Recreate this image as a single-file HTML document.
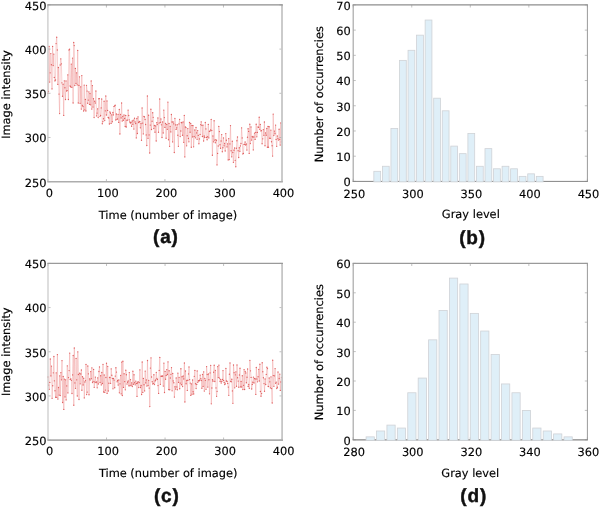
<!DOCTYPE html>
<html><head><meta charset="utf-8"><title>Figure</title>
<style>
html,body{margin:0;padding:0;background:#fff;}
svg{display:block;}
text{font-family:"DejaVu Sans","Liberation Sans",sans-serif;font-size:11.4px;fill:#000;stroke:#000;stroke-width:0.15px;text-rendering:geometricPrecision;}
text.tag{font-family:"Liberation Sans","DejaVu Sans",sans-serif;font-weight:bold;font-size:19px;fill:#111;stroke:#111;stroke-width:0.45px;letter-spacing:0.8px;}
</style></head><body>
<svg width="600" height="508" viewBox="0 0 600 508">
<rect width="600" height="508" fill="#fff"/>
<path d="M47.9,93.3 L48.5,91.5 L49.1,46.4 L49.7,82.1 L50.2,72.8 L50.8,53.6 L51.4,64.7 L52.0,88.9 L52.6,46.4 L53.2,65.6 L53.8,54.1 L54.3,77.4 L54.9,80.9 L55.5,79.9 L56.1,43.6 L56.7,37.2 L57.3,50.0 L57.8,84.4 L58.4,67.5 L59.0,94.1 L59.6,113.6 L60.2,65.0 L60.8,58.8 L61.4,63.8 L61.9,82.8 L62.5,96.2 L63.1,84.2 L63.7,115.4 L64.3,80.8 L64.9,87.7 L65.5,99.5 L66.0,80.9 L66.6,91.0 L67.2,90.6 L67.8,74.8 L68.4,99.5 L69.0,50.0 L69.6,49.1 L70.1,86.0 L70.7,86.9 L71.3,64.1 L71.9,87.3 L72.5,58.1 L73.1,103.0 L73.7,42.5 L74.2,45.6 L74.8,85.5 L75.4,68.4 L76.0,83.4 L76.6,72.8 L77.2,84.9 L77.7,50.4 L78.3,103.0 L78.9,85.4 L79.5,76.8 L80.1,103.3 L80.7,86.8 L81.3,109.1 L81.8,75.6 L82.4,105.3 L83.0,106.5 L83.6,111.0 L84.2,85.1 L84.8,109.8 L85.4,99.4 L85.9,111.0 L86.5,85.3 L87.1,91.1 L87.7,103.2 L88.3,100.1 L88.9,91.8 L89.5,104.4 L90.0,93.5 L90.6,104.8 L91.2,80.9 L91.8,109.1 L92.4,85.6 L93.0,107.1 L93.5,98.7 L94.1,117.6 L94.7,101.2 L95.3,103.1 L95.9,91.0 L96.5,115.9 L97.1,113.1 L97.6,108.8 L98.2,117.6 L98.8,98.7 L99.4,98.6 L100.0,116.3 L100.6,115.4 L101.2,107.9 L101.7,99.0 L102.3,123.7 L102.9,121.6 L103.5,118.7 L104.1,101.2 L104.7,120.6 L105.3,110.8 L105.8,96.0 L106.4,115.0 L107.0,100.9 L107.6,110.4 L108.2,117.5 L108.8,118.0 L109.4,124.0 L109.9,111.9 L110.5,113.2 L111.1,123.4 L111.7,114.8 L112.3,121.7 L112.9,112.5 L113.4,114.9 L114.0,106.4 L114.6,105.8 L115.2,105.2 L115.8,120.0 L116.4,114.0 L117.0,119.3 L117.5,119.0 L118.1,114.3 L118.7,122.4 L119.3,109.5 L119.9,134.0 L120.5,114.3 L121.1,118.0 L121.6,103.0 L122.2,121.1 L122.8,116.4 L123.4,120.2 L124.0,115.0 L124.6,118.5 L125.2,126.5 L125.7,115.4 L126.3,127.0 L126.9,120.2 L127.5,120.1 L128.1,110.1 L128.7,115.5 L129.2,119.8 L129.8,121.9 L130.4,123.0 L131.0,122.4 L131.6,126.2 L132.2,121.0 L132.8,124.3 L133.3,120.1 L133.9,129.1 L134.5,118.2 L135.1,121.9 L135.7,123.5 L136.3,137.9 L136.9,118.5 L137.4,133.5 L138.0,116.8 L138.6,122.5 L139.2,121.9 L139.8,121.5 L140.4,127.8 L141.0,123.5 L141.5,140.2 L142.1,107.9 L142.7,123.1 L143.3,133.9 L143.9,116.4 L144.5,116.9 L145.1,119.5 L145.6,124.5 L146.2,134.9 L146.8,145.5 L147.4,96.0 L148.0,138.3 L148.6,115.2 L149.1,134.9 L149.7,153.0 L150.3,125.1 L150.9,109.2 L151.5,129.5 L152.1,121.2 L152.7,112.7 L153.2,117.3 L153.8,128.6 L154.4,125.5 L155.0,132.2 L155.6,125.9 L156.2,141.0 L156.8,122.6 L157.3,124.6 L157.9,117.9 L158.5,132.2 L159.1,123.1 L159.7,99.0 L160.3,122.5 L160.9,118.9 L161.4,124.8 L162.0,137.5 L162.6,121.9 L163.2,133.0 L163.8,110.1 L164.4,117.6 L164.9,127.4 L165.5,123.5 L166.1,138.2 L166.7,124.4 L167.3,129.3 L167.9,102.1 L168.5,139.7 L169.0,123.4 L169.6,146.3 L170.2,126.3 L170.8,131.9 L171.4,114.5 L172.0,122.0 L172.6,141.9 L173.1,121.9 L173.7,123.8 L174.3,152.5 L174.9,118.3 L175.5,124.9 L176.1,129.4 L176.7,127.8 L177.2,124.7 L177.8,135.2 L178.4,146.3 L179.0,123.9 L179.6,119.3 L180.2,136.6 L180.8,131.0 L181.3,122.5 L181.9,122.8 L182.5,135.2 L183.1,121.9 L183.7,142.3 L184.3,115.4 L184.8,156.9 L185.4,126.9 L186.0,127.6 L186.6,145.8 L187.2,135.7 L187.8,128.6 L188.4,138.4 L188.9,141.8 L189.5,122.5 L190.1,132.2 L190.7,123.4 L191.3,147.2 L191.9,125.4 L192.5,136.9 L193.0,125.6 L193.6,146.8 L194.2,136.4 L194.8,130.0 L195.4,137.8 L196.0,127.4 L196.6,132.9 L197.1,139.3 L197.7,130.6 L198.3,135.4 L198.9,143.7 L199.5,138.9 L200.1,134.4 L200.7,124.6 L201.2,121.8 L201.8,125.3 L202.4,136.5 L203.0,125.1 L203.6,141.0 L204.2,136.0 L204.7,137.5 L205.3,122.5 L205.9,128.9 L206.5,137.4 L207.1,139.7 L207.7,136.7 L208.3,124.4 L208.8,137.9 L209.4,131.4 L210.0,131.0 L210.6,129.8 L211.2,119.4 L211.8,130.5 L212.4,155.2 L212.9,135.9 L213.5,141.8 L214.1,120.7 L214.7,140.1 L215.3,142.7 L215.9,139.6 L216.5,140.6 L217.0,164.9 L217.6,153.4 L218.2,146.0 L218.8,126.4 L219.4,131.6 L220.0,144.7 L220.5,148.2 L221.1,141.0 L221.7,134.6 L222.3,151.7 L222.9,147.7 L223.5,137.9 L224.1,145.8 L224.6,143.3 L225.2,151.0 L225.8,133.6 L226.4,140.2 L227.0,146.9 L227.6,143.8 L228.2,159.9 L228.7,138.6 L229.3,159.6 L229.9,143.9 L230.5,125.6 L231.1,150.7 L231.7,156.8 L232.3,141.2 L232.8,152.5 L233.4,162.3 L234.0,150.2 L234.6,148.0 L235.2,160.3 L235.8,166.7 L236.4,148.2 L236.9,140.7 L237.5,137.0 L238.1,150.7 L238.7,157.5 L239.3,147.7 L239.9,151.3 L240.4,145.9 L241.0,143.5 L241.6,127.8 L242.2,137.9 L242.8,153.9 L243.4,153.4 L244.0,144.4 L244.5,144.3 L245.1,142.0 L245.7,145.0 L246.3,144.0 L246.9,150.1 L247.5,137.2 L248.1,128.7 L248.6,131.4 L249.2,153.4 L249.8,124.2 L250.4,143.6 L251.0,126.9 L251.6,140.1 L252.2,136.3 L252.7,137.0 L253.3,149.9 L253.9,137.0 L254.5,133.1 L255.1,139.4 L255.7,132.4 L256.2,124.2 L256.8,136.8 L257.4,132.4 L258.0,127.0 L258.6,127.4 L259.2,117.2 L259.8,129.3 L260.3,124.4 L260.9,130.9 L261.5,130.6 L262.1,143.7 L262.7,138.8 L263.3,129.6 L263.9,135.3 L264.4,122.0 L265.0,145.7 L265.6,132.9 L266.2,135.2 L266.8,128.5 L267.4,147.2 L268.0,126.4 L268.5,147.2 L269.1,126.7 L269.7,138.2 L270.3,138.3 L270.9,130.1 L271.5,141.7 L272.1,145.7 L272.6,156.1 L273.2,114.1 L273.8,135.6 L274.4,131.1 L275.0,133.7 L275.6,125.1 L276.1,139.4 L276.7,146.3 L277.3,136.0 L277.9,138.6 L278.5,140.1 L279.1,129.2 L279.7,139.3 L280.2,145.1 L280.8,122.9 L281.4,141.9" fill="none" stroke="#ef9898" stroke-width="0.45" stroke-linejoin="round"/>
<path d="M47.9,93.3h0M48.5,91.5h0M49.1,46.4h0M49.7,82.1h0M50.2,72.8h0M50.8,53.6h0M51.4,64.7h0M52.0,88.9h0M52.6,46.4h0M53.2,65.6h0M53.8,54.1h0M54.3,77.4h0M54.9,80.9h0M55.5,79.9h0M56.1,43.6h0M56.7,37.2h0M57.3,50.0h0M57.8,84.4h0M58.4,67.5h0M59.0,94.1h0M59.6,113.6h0M60.2,65.0h0M60.8,58.8h0M61.4,63.8h0M61.9,82.8h0M62.5,96.2h0M63.1,84.2h0M63.7,115.4h0M64.3,80.8h0M64.9,87.7h0M65.5,99.5h0M66.0,80.9h0M66.6,91.0h0M67.2,90.6h0M67.8,74.8h0M68.4,99.5h0M69.0,50.0h0M69.6,49.1h0M70.1,86.0h0M70.7,86.9h0M71.3,64.1h0M71.9,87.3h0M72.5,58.1h0M73.1,103.0h0M73.7,42.5h0M74.2,45.6h0M74.8,85.5h0M75.4,68.4h0M76.0,83.4h0M76.6,72.8h0M77.2,84.9h0M77.7,50.4h0M78.3,103.0h0M78.9,85.4h0M79.5,76.8h0M80.1,103.3h0M80.7,86.8h0M81.3,109.1h0M81.8,75.6h0M82.4,105.3h0M83.0,106.5h0M83.6,111.0h0M84.2,85.1h0M84.8,109.8h0M85.4,99.4h0M85.9,111.0h0M86.5,85.3h0M87.1,91.1h0M87.7,103.2h0M88.3,100.1h0M88.9,91.8h0M89.5,104.4h0M90.0,93.5h0M90.6,104.8h0M91.2,80.9h0M91.8,109.1h0M92.4,85.6h0M93.0,107.1h0M93.5,98.7h0M94.1,117.6h0M94.7,101.2h0M95.3,103.1h0M95.9,91.0h0M96.5,115.9h0M97.1,113.1h0M97.6,108.8h0M98.2,117.6h0M98.8,98.7h0M99.4,98.6h0M100.0,116.3h0M100.6,115.4h0M101.2,107.9h0M101.7,99.0h0M102.3,123.7h0M102.9,121.6h0M103.5,118.7h0M104.1,101.2h0M104.7,120.6h0M105.3,110.8h0M105.8,96.0h0M106.4,115.0h0M107.0,100.9h0M107.6,110.4h0M108.2,117.5h0M108.8,118.0h0M109.4,124.0h0M109.9,111.9h0M110.5,113.2h0M111.1,123.4h0M111.7,114.8h0M112.3,121.7h0M112.9,112.5h0M113.4,114.9h0M114.0,106.4h0M114.6,105.8h0M115.2,105.2h0M115.8,120.0h0M116.4,114.0h0M117.0,119.3h0M117.5,119.0h0M118.1,114.3h0M118.7,122.4h0M119.3,109.5h0M119.9,134.0h0M120.5,114.3h0M121.1,118.0h0M121.6,103.0h0M122.2,121.1h0M122.8,116.4h0M123.4,120.2h0M124.0,115.0h0M124.6,118.5h0M125.2,126.5h0M125.7,115.4h0M126.3,127.0h0M126.9,120.2h0M127.5,120.1h0M128.1,110.1h0M128.7,115.5h0M129.2,119.8h0M129.8,121.9h0M130.4,123.0h0M131.0,122.4h0M131.6,126.2h0M132.2,121.0h0M132.8,124.3h0M133.3,120.1h0M133.9,129.1h0M134.5,118.2h0M135.1,121.9h0M135.7,123.5h0M136.3,137.9h0M136.9,118.5h0M137.4,133.5h0M138.0,116.8h0M138.6,122.5h0M139.2,121.9h0M139.8,121.5h0M140.4,127.8h0M141.0,123.5h0M141.5,140.2h0M142.1,107.9h0M142.7,123.1h0M143.3,133.9h0M143.9,116.4h0M144.5,116.9h0M145.1,119.5h0M145.6,124.5h0M146.2,134.9h0M146.8,145.5h0M147.4,96.0h0M148.0,138.3h0M148.6,115.2h0M149.1,134.9h0M149.7,153.0h0M150.3,125.1h0M150.9,109.2h0M151.5,129.5h0M152.1,121.2h0M152.7,112.7h0M153.2,117.3h0M153.8,128.6h0M154.4,125.5h0M155.0,132.2h0M155.6,125.9h0M156.2,141.0h0M156.8,122.6h0M157.3,124.6h0M157.9,117.9h0M158.5,132.2h0M159.1,123.1h0M159.7,99.0h0M160.3,122.5h0M160.9,118.9h0M161.4,124.8h0M162.0,137.5h0M162.6,121.9h0M163.2,133.0h0M163.8,110.1h0M164.4,117.6h0M164.9,127.4h0M165.5,123.5h0M166.1,138.2h0M166.7,124.4h0M167.3,129.3h0M167.9,102.1h0M168.5,139.7h0M169.0,123.4h0M169.6,146.3h0M170.2,126.3h0M170.8,131.9h0M171.4,114.5h0M172.0,122.0h0M172.6,141.9h0M173.1,121.9h0M173.7,123.8h0M174.3,152.5h0M174.9,118.3h0M175.5,124.9h0M176.1,129.4h0M176.7,127.8h0M177.2,124.7h0M177.8,135.2h0M178.4,146.3h0M179.0,123.9h0M179.6,119.3h0M180.2,136.6h0M180.8,131.0h0M181.3,122.5h0M181.9,122.8h0M182.5,135.2h0M183.1,121.9h0M183.7,142.3h0M184.3,115.4h0M184.8,156.9h0M185.4,126.9h0M186.0,127.6h0M186.6,145.8h0M187.2,135.7h0M187.8,128.6h0M188.4,138.4h0M188.9,141.8h0M189.5,122.5h0M190.1,132.2h0M190.7,123.4h0M191.3,147.2h0M191.9,125.4h0M192.5,136.9h0M193.0,125.6h0M193.6,146.8h0M194.2,136.4h0M194.8,130.0h0M195.4,137.8h0M196.0,127.4h0M196.6,132.9h0M197.1,139.3h0M197.7,130.6h0M198.3,135.4h0M198.9,143.7h0M199.5,138.9h0M200.1,134.4h0M200.7,124.6h0M201.2,121.8h0M201.8,125.3h0M202.4,136.5h0M203.0,125.1h0M203.6,141.0h0M204.2,136.0h0M204.7,137.5h0M205.3,122.5h0M205.9,128.9h0M206.5,137.4h0M207.1,139.7h0M207.7,136.7h0M208.3,124.4h0M208.8,137.9h0M209.4,131.4h0M210.0,131.0h0M210.6,129.8h0M211.2,119.4h0M211.8,130.5h0M212.4,155.2h0M212.9,135.9h0M213.5,141.8h0M214.1,120.7h0M214.7,140.1h0M215.3,142.7h0M215.9,139.6h0M216.5,140.6h0M217.0,164.9h0M217.6,153.4h0M218.2,146.0h0M218.8,126.4h0M219.4,131.6h0M220.0,144.7h0M220.5,148.2h0M221.1,141.0h0M221.7,134.6h0M222.3,151.7h0M222.9,147.7h0M223.5,137.9h0M224.1,145.8h0M224.6,143.3h0M225.2,151.0h0M225.8,133.6h0M226.4,140.2h0M227.0,146.9h0M227.6,143.8h0M228.2,159.9h0M228.7,138.6h0M229.3,159.6h0M229.9,143.9h0M230.5,125.6h0M231.1,150.7h0M231.7,156.8h0M232.3,141.2h0M232.8,152.5h0M233.4,162.3h0M234.0,150.2h0M234.6,148.0h0M235.2,160.3h0M235.8,166.7h0M236.4,148.2h0M236.9,140.7h0M237.5,137.0h0M238.1,150.7h0M238.7,157.5h0M239.3,147.7h0M239.9,151.3h0M240.4,145.9h0M241.0,143.5h0M241.6,127.8h0M242.2,137.9h0M242.8,153.9h0M243.4,153.4h0M244.0,144.4h0M244.5,144.3h0M245.1,142.0h0M245.7,145.0h0M246.3,144.0h0M246.9,150.1h0M247.5,137.2h0M248.1,128.7h0M248.6,131.4h0M249.2,153.4h0M249.8,124.2h0M250.4,143.6h0M251.0,126.9h0M251.6,140.1h0M252.2,136.3h0M252.7,137.0h0M253.3,149.9h0M253.9,137.0h0M254.5,133.1h0M255.1,139.4h0M255.7,132.4h0M256.2,124.2h0M256.8,136.8h0M257.4,132.4h0M258.0,127.0h0M258.6,127.4h0M259.2,117.2h0M259.8,129.3h0M260.3,124.4h0M260.9,130.9h0M261.5,130.6h0M262.1,143.7h0M262.7,138.8h0M263.3,129.6h0M263.9,135.3h0M264.4,122.0h0M265.0,145.7h0M265.6,132.9h0M266.2,135.2h0M266.8,128.5h0M267.4,147.2h0M268.0,126.4h0M268.5,147.2h0M269.1,126.7h0M269.7,138.2h0M270.3,138.3h0M270.9,130.1h0M271.5,141.7h0M272.1,145.7h0M272.6,156.1h0M273.2,114.1h0M273.8,135.6h0M274.4,131.1h0M275.0,133.7h0M275.6,125.1h0M276.1,139.4h0M276.7,146.3h0M277.3,136.0h0M277.9,138.6h0M278.5,140.1h0M279.1,129.2h0M279.7,139.3h0M280.2,145.1h0M280.8,122.9h0M281.4,141.9h0" fill="none" stroke="#e06161" stroke-width="1.35" stroke-linecap="round"/>
<text x="49.40" y="197.45" text-anchor="middle">0</text>
<text x="107.92" y="197.45" text-anchor="middle">100</text>
<text x="166.45" y="197.45" text-anchor="middle">200</text>
<text x="224.97" y="197.45" text-anchor="middle">300</text>
<text x="283.50" y="197.45" text-anchor="middle">400</text>
<text x="46.45" y="186.60" text-anchor="end">250</text>
<text x="46.45" y="142.40" text-anchor="end">300</text>
<text x="46.45" y="98.20" text-anchor="end">350</text>
<text x="46.45" y="54.00" text-anchor="end">400</text>
<text x="46.45" y="9.80" text-anchor="end">450</text>
<path d="M47.90,181.7v-2.6M47.90,4.9v2.6M106.42,181.7v-2.6M106.42,4.9v2.6M164.95,181.7v-2.6M164.95,4.9v2.6M223.47,181.7v-2.6M223.47,4.9v2.6M282.00,181.7v-2.6M282.00,4.9v2.6M47.9,181.70h2.6M282.0,181.70h-2.6M47.9,137.50h2.6M282.0,137.50h-2.6M47.9,93.30h2.6M282.0,93.30h-2.6M47.9,49.10h2.6M282.0,49.10h-2.6M47.9,4.90h2.6M282.0,4.90h-2.6" stroke="#a6a6a6" stroke-width="0.7" fill="none"/>
<path d="M47.9,4.9V181.7" stroke="#c8c8c8" stroke-width="1.25" fill="none"/>
<path d="M282.0,4.9V181.7" stroke="#c6c6c6" stroke-width="1.8" fill="none"/>
<path d="M47.275,4.9H282.9" stroke="#8e8e8e" stroke-width="1.4" fill="none"/>
<path d="M47.275,181.7H282.9" stroke="#adadad" stroke-width="1.6" fill="none"/>
<text x="168.05" y="218.70" text-anchor="middle">Time (number of image)</text>
<text transform="translate(10.2,94.50) rotate(-90)" text-anchor="middle">Image intensity</text>
<text class="tag" x="165.90" y="243.00" text-anchor="middle">(a)</text>
<text x="354.30" y="197.55" text-anchor="middle">250</text>
<text x="412.85" y="197.55" text-anchor="middle">300</text>
<text x="471.40" y="197.55" text-anchor="middle">350</text>
<text x="529.95" y="197.55" text-anchor="middle">400</text>
<text x="588.50" y="197.55" text-anchor="middle">450</text>
<text x="350.65" y="186.30" text-anchor="end">0</text>
<text x="350.65" y="161.09" text-anchor="end">10</text>
<text x="350.65" y="135.87" text-anchor="end">20</text>
<text x="350.65" y="110.66" text-anchor="end">30</text>
<text x="350.65" y="85.44" text-anchor="end">40</text>
<text x="350.65" y="60.23" text-anchor="end">50</text>
<text x="350.65" y="35.01" text-anchor="end">60</text>
<text x="350.65" y="9.80" text-anchor="end">70</text>
<path d="M353.20,181.4v-2.6M353.20,4.9v2.6M411.75,181.4v-2.6M411.75,4.9v2.6M470.30,181.4v-2.6M470.30,4.9v2.6M528.85,181.4v-2.6M528.85,4.9v2.6M587.40,181.4v-2.6M587.40,4.9v2.6M353.2,181.40h2.6M587.4,181.40h-2.6M353.2,156.19h2.6M587.4,156.19h-2.6M353.2,130.97h2.6M587.4,130.97h-2.6M353.2,105.76h2.6M587.4,105.76h-2.6M353.2,80.54h2.6M587.4,80.54h-2.6M353.2,55.33h2.6M587.4,55.33h-2.6M353.2,30.11h2.6M587.4,30.11h-2.6M353.2,4.90h2.6M587.4,4.90h-2.6" stroke="#a6a6a6" stroke-width="0.7" fill="none"/>
<path d="M353.2,4.9V181.4" stroke="#a8a8a8" stroke-width="1.2" fill="none"/>
<path d="M587.4,4.9V181.4" stroke="#9a9a9a" stroke-width="1.0" fill="none"/>
<path d="M352.59999999999997,4.9H587.9" stroke="#8e8e8e" stroke-width="1.4" fill="none"/>
<path d="M352.59999999999997,181.4H587.9" stroke="#858585" stroke-width="1.0" fill="none"/>
<text x="470.85" y="218.40" text-anchor="middle">Gray level</text>
<text transform="translate(323.3,94.15) rotate(-90)" text-anchor="middle">Number of occurrencies</text>
<text class="tag" x="472.55" y="244.10" text-anchor="middle">(b)</text>
<rect x="373.84" y="171.31" width="6.80" height="10.59" fill="#dfeff8" stroke="#cfd2d6" stroke-width="0.8"/>
<rect x="382.39" y="166.27" width="6.80" height="15.63" fill="#dfeff8" stroke="#cfd2d6" stroke-width="0.8"/>
<rect x="390.94" y="128.45" width="6.80" height="53.45" fill="#dfeff8" stroke="#cfd2d6" stroke-width="0.8"/>
<rect x="399.49" y="60.37" width="6.80" height="121.53" fill="#dfeff8" stroke="#cfd2d6" stroke-width="0.8"/>
<rect x="408.04" y="50.29" width="6.80" height="131.61" fill="#dfeff8" stroke="#cfd2d6" stroke-width="0.8"/>
<rect x="416.59" y="35.16" width="6.80" height="146.74" fill="#dfeff8" stroke="#cfd2d6" stroke-width="0.8"/>
<rect x="425.14" y="20.03" width="6.80" height="161.87" fill="#dfeff8" stroke="#cfd2d6" stroke-width="0.8"/>
<rect x="433.69" y="98.19" width="6.80" height="83.71" fill="#dfeff8" stroke="#cfd2d6" stroke-width="0.8"/>
<rect x="442.24" y="110.80" width="6.80" height="71.10" fill="#dfeff8" stroke="#cfd2d6" stroke-width="0.8"/>
<rect x="450.79" y="146.10" width="6.80" height="35.80" fill="#dfeff8" stroke="#cfd2d6" stroke-width="0.8"/>
<rect x="459.34" y="153.66" width="6.80" height="28.24" fill="#dfeff8" stroke="#cfd2d6" stroke-width="0.8"/>
<rect x="467.89" y="133.49" width="6.80" height="48.41" fill="#dfeff8" stroke="#cfd2d6" stroke-width="0.8"/>
<rect x="476.44" y="166.27" width="6.80" height="15.63" fill="#dfeff8" stroke="#cfd2d6" stroke-width="0.8"/>
<rect x="484.99" y="148.62" width="6.80" height="33.28" fill="#dfeff8" stroke="#cfd2d6" stroke-width="0.8"/>
<rect x="493.54" y="168.79" width="6.80" height="13.11" fill="#dfeff8" stroke="#cfd2d6" stroke-width="0.8"/>
<rect x="502.08" y="166.27" width="6.80" height="15.63" fill="#dfeff8" stroke="#cfd2d6" stroke-width="0.8"/>
<rect x="510.63" y="168.79" width="6.80" height="13.11" fill="#dfeff8" stroke="#cfd2d6" stroke-width="0.8"/>
<rect x="519.18" y="176.36" width="6.80" height="5.54" fill="#dfeff8" stroke="#cfd2d6" stroke-width="0.8"/>
<rect x="527.73" y="173.84" width="6.80" height="8.06" fill="#dfeff8" stroke="#cfd2d6" stroke-width="0.8"/>
<rect x="536.28" y="176.36" width="6.80" height="5.54" fill="#dfeff8" stroke="#cfd2d6" stroke-width="0.8"/>
<path d="M48.0,376.9 L48.6,385.1 L49.2,389.3 L49.8,382.4 L50.3,359.0 L50.9,375.9 L51.5,366.1 L52.1,398.3 L52.7,385.7 L53.3,372.8 L53.9,356.5 L54.4,380.8 L55.0,390.7 L55.6,397.2 L56.2,372.8 L56.8,397.3 L57.4,354.6 L57.9,399.1 L58.5,387.5 L59.1,395.1 L59.7,375.8 L60.3,395.6 L60.9,372.6 L61.5,379.8 L62.0,360.6 L62.6,402.5 L63.2,376.5 L63.8,409.4 L64.4,379.1 L65.0,396.9 L65.6,379.8 L66.1,399.9 L66.7,385.9 L67.3,365.8 L67.9,392.9 L68.5,377.6 L69.1,370.6 L69.7,353.1 L70.2,379.4 L70.8,378.8 L71.4,380.3 L72.0,393.5 L72.6,374.9 L73.2,355.5 L73.8,405.2 L74.3,348.0 L74.9,382.9 L75.5,388.3 L76.1,358.4 L76.7,379.8 L77.3,396.0 L77.8,351.8 L78.4,374.5 L79.0,399.5 L79.6,373.2 L80.2,383.8 L80.8,374.0 L81.4,370.0 L81.9,390.2 L82.5,376.7 L83.1,385.0 L83.7,378.2 L84.3,397.9 L84.9,382.0 L85.5,380.6 L86.0,364.4 L86.6,394.6 L87.2,392.1 L87.8,366.0 L88.4,373.8 L89.0,394.7 L89.6,378.8 L90.1,380.1 L90.7,371.6 L91.3,378.7 L91.9,367.8 L92.5,382.6 L93.1,381.6 L93.6,369.4 L94.2,387.3 L94.8,381.9 L95.4,377.1 L96.0,382.5 L96.6,381.9 L97.2,387.8 L97.7,377.8 L98.3,384.0 L98.9,371.5 L99.5,366.9 L100.1,382.5 L100.7,375.7 L101.3,384.9 L101.8,372.5 L102.4,383.5 L103.0,364.3 L103.6,392.0 L104.2,375.0 L104.8,392.3 L105.4,390.1 L105.9,377.5 L106.5,363.2 L107.1,393.4 L107.7,366.3 L108.3,391.0 L108.9,383.2 L109.5,377.4 L110.0,377.5 L110.6,383.3 L111.2,368.8 L111.8,375.2 L112.4,378.6 L113.0,388.8 L113.5,378.5 L114.1,380.1 L114.7,387.7 L115.3,376.1 L115.9,367.7 L116.5,372.1 L117.1,381.8 L117.6,380.5 L118.2,385.1 L118.8,379.9 L119.4,392.8 L120.0,383.8 L120.6,375.3 L121.2,393.9 L121.7,362.1 L122.3,395.5 L122.9,361.2 L123.5,387.4 L124.1,373.7 L124.7,381.6 L125.3,389.8 L125.8,370.2 L126.4,374.7 L127.0,384.1 L127.6,382.2 L128.2,380.9 L128.8,385.8 L129.3,372.6 L129.9,385.8 L130.5,379.6 L131.1,385.2 L131.7,382.8 L132.3,386.5 L132.9,371.2 L133.4,384.2 L134.0,374.7 L134.6,382.7 L135.2,384.8 L135.8,381.1 L136.4,383.4 L137.0,396.4 L137.5,383.0 L138.1,381.7 L138.7,387.6 L139.3,382.6 L139.9,369.8 L140.5,387.5 L141.1,385.5 L141.6,394.5 L142.2,362.0 L142.8,392.4 L143.4,378.4 L144.0,384.7 L144.6,390.9 L145.2,371.1 L145.7,382.9 L146.3,379.9 L146.9,386.1 L147.5,360.5 L148.1,385.6 L148.7,380.3 L149.2,388.1 L149.8,406.6 L150.4,368.1 L151.0,357.8 L151.6,377.0 L152.2,381.7 L152.8,384.0 L153.3,383.4 L153.9,374.7 L154.5,384.6 L155.1,380.9 L155.7,380.0 L156.3,372.3 L156.9,378.5 L157.4,379.4 L158.0,385.6 L158.6,393.4 L159.2,370.4 L159.8,357.4 L160.4,384.3 L161.0,376.2 L161.5,376.2 L162.1,376.4 L162.7,376.0 L163.3,386.1 L163.9,363.1 L164.5,392.5 L165.1,371.4 L165.6,379.2 L166.2,375.4 L166.8,369.6 L167.4,374.5 L168.0,361.8 L168.6,389.6 L169.1,370.7 L169.7,389.7 L170.3,378.0 L170.9,374.3 L171.5,367.6 L172.1,390.8 L172.7,373.4 L173.2,380.9 L173.8,382.7 L174.4,397.1 L175.0,386.7 L175.6,389.1 L176.2,377.9 L176.8,386.9 L177.3,389.7 L177.9,373.1 L178.5,382.4 L179.1,377.3 L179.7,388.7 L180.3,383.1 L180.9,368.7 L181.4,384.7 L182.0,376.7 L182.6,386.6 L183.2,376.0 L183.8,379.0 L184.4,363.0 L184.9,402.0 L185.5,371.0 L186.1,383.7 L186.7,380.5 L187.3,390.4 L187.9,380.2 L188.5,373.9 L189.0,366.9 L189.6,379.6 L190.2,383.1 L190.8,395.4 L191.4,383.9 L192.0,394.2 L192.6,380.0 L193.1,391.7 L193.7,394.0 L194.3,376.3 L194.9,370.4 L195.5,383.7 L196.1,388.6 L196.7,384.4 L197.2,370.9 L197.8,382.3 L198.4,380.7 L199.0,381.1 L199.6,380.2 L200.2,375.1 L200.8,378.7 L201.3,380.5 L201.9,388.2 L202.5,374.4 L203.1,386.4 L203.7,371.8 L204.3,391.1 L204.8,378.3 L205.4,380.3 L206.0,389.3 L206.6,366.6 L207.2,374.6 L207.8,387.1 L208.4,374.0 L208.9,379.7 L209.5,393.8 L210.1,372.9 L210.7,365.3 L211.3,403.8 L211.9,388.0 L212.5,379.7 L213.0,381.2 L213.6,372.2 L214.2,365.2 L214.8,381.5 L215.4,370.3 L216.0,387.9 L216.6,396.3 L217.1,391.3 L217.7,366.6 L218.3,377.6 L218.9,365.1 L219.5,378.1 L220.1,381.5 L220.6,379.3 L221.2,383.1 L221.8,381.4 L222.4,379.5 L223.0,370.6 L223.6,380.4 L224.2,382.5 L224.7,384.6 L225.3,383.8 L225.9,368.4 L226.5,381.0 L227.1,381.4 L227.7,383.4 L228.3,387.1 L228.8,395.3 L229.4,374.2 L230.0,362.9 L230.6,381.3 L231.2,381.7 L231.8,379.2 L232.4,390.9 L232.9,403.3 L233.5,365.0 L234.1,372.7 L234.7,387.8 L235.3,374.8 L235.9,371.8 L236.5,386.2 L237.0,364.9 L237.6,377.7 L238.2,381.1 L238.8,387.2 L239.4,375.0 L240.0,368.2 L240.5,386.9 L241.1,381.4 L241.7,387.0 L242.3,375.7 L242.9,389.5 L243.5,385.3 L244.1,369.6 L244.6,389.5 L245.2,371.3 L245.8,373.0 L246.4,382.7 L247.0,377.2 L247.6,369.0 L248.2,386.5 L248.7,384.3 L249.3,388.3 L249.9,360.3 L250.5,370.8 L251.1,377.4 L251.7,389.0 L252.3,384.4 L252.8,382.2 L253.4,377.1 L254.0,383.0 L254.6,378.4 L255.2,379.0 L255.8,394.4 L256.3,367.5 L256.9,379.0 L257.5,381.8 L258.1,376.7 L258.7,369.3 L259.3,381.0 L259.9,364.2 L260.4,391.5 L261.0,396.2 L261.6,393.6 L262.2,362.7 L262.8,371.7 L263.4,377.7 L264.0,383.6 L264.5,391.2 L265.1,378.9 L265.7,384.5 L266.3,374.4 L266.9,367.2 L267.5,368.6 L268.1,386.3 L268.6,386.6 L269.2,378.0 L269.8,381.8 L270.4,387.9 L271.0,376.8 L271.6,388.6 L272.2,403.0 L272.7,360.2 L273.3,375.6 L273.9,386.3 L274.5,375.8 L275.1,368.6 L275.7,383.2 L276.2,382.1 L276.8,388.5 L277.4,387.2 L278.0,372.0 L278.6,384.1 L279.2,378.5 L279.8,374.1 L280.3,390.4 L280.9,382.0 L281.5,377.3" fill="none" stroke="#ef9898" stroke-width="0.45" stroke-linejoin="round"/>
<path d="M48.0,376.9h0M48.6,385.1h0M49.2,389.3h0M49.8,382.4h0M50.3,359.0h0M50.9,375.9h0M51.5,366.1h0M52.1,398.3h0M52.7,385.7h0M53.3,372.8h0M53.9,356.5h0M54.4,380.8h0M55.0,390.7h0M55.6,397.2h0M56.2,372.8h0M56.8,397.3h0M57.4,354.6h0M57.9,399.1h0M58.5,387.5h0M59.1,395.1h0M59.7,375.8h0M60.3,395.6h0M60.9,372.6h0M61.5,379.8h0M62.0,360.6h0M62.6,402.5h0M63.2,376.5h0M63.8,409.4h0M64.4,379.1h0M65.0,396.9h0M65.6,379.8h0M66.1,399.9h0M66.7,385.9h0M67.3,365.8h0M67.9,392.9h0M68.5,377.6h0M69.1,370.6h0M69.7,353.1h0M70.2,379.4h0M70.8,378.8h0M71.4,380.3h0M72.0,393.5h0M72.6,374.9h0M73.2,355.5h0M73.8,405.2h0M74.3,348.0h0M74.9,382.9h0M75.5,388.3h0M76.1,358.4h0M76.7,379.8h0M77.3,396.0h0M77.8,351.8h0M78.4,374.5h0M79.0,399.5h0M79.6,373.2h0M80.2,383.8h0M80.8,374.0h0M81.4,370.0h0M81.9,390.2h0M82.5,376.7h0M83.1,385.0h0M83.7,378.2h0M84.3,397.9h0M84.9,382.0h0M85.5,380.6h0M86.0,364.4h0M86.6,394.6h0M87.2,392.1h0M87.8,366.0h0M88.4,373.8h0M89.0,394.7h0M89.6,378.8h0M90.1,380.1h0M90.7,371.6h0M91.3,378.7h0M91.9,367.8h0M92.5,382.6h0M93.1,381.6h0M93.6,369.4h0M94.2,387.3h0M94.8,381.9h0M95.4,377.1h0M96.0,382.5h0M96.6,381.9h0M97.2,387.8h0M97.7,377.8h0M98.3,384.0h0M98.9,371.5h0M99.5,366.9h0M100.1,382.5h0M100.7,375.7h0M101.3,384.9h0M101.8,372.5h0M102.4,383.5h0M103.0,364.3h0M103.6,392.0h0M104.2,375.0h0M104.8,392.3h0M105.4,390.1h0M105.9,377.5h0M106.5,363.2h0M107.1,393.4h0M107.7,366.3h0M108.3,391.0h0M108.9,383.2h0M109.5,377.4h0M110.0,377.5h0M110.6,383.3h0M111.2,368.8h0M111.8,375.2h0M112.4,378.6h0M113.0,388.8h0M113.5,378.5h0M114.1,380.1h0M114.7,387.7h0M115.3,376.1h0M115.9,367.7h0M116.5,372.1h0M117.1,381.8h0M117.6,380.5h0M118.2,385.1h0M118.8,379.9h0M119.4,392.8h0M120.0,383.8h0M120.6,375.3h0M121.2,393.9h0M121.7,362.1h0M122.3,395.5h0M122.9,361.2h0M123.5,387.4h0M124.1,373.7h0M124.7,381.6h0M125.3,389.8h0M125.8,370.2h0M126.4,374.7h0M127.0,384.1h0M127.6,382.2h0M128.2,380.9h0M128.8,385.8h0M129.3,372.6h0M129.9,385.8h0M130.5,379.6h0M131.1,385.2h0M131.7,382.8h0M132.3,386.5h0M132.9,371.2h0M133.4,384.2h0M134.0,374.7h0M134.6,382.7h0M135.2,384.8h0M135.8,381.1h0M136.4,383.4h0M137.0,396.4h0M137.5,383.0h0M138.1,381.7h0M138.7,387.6h0M139.3,382.6h0M139.9,369.8h0M140.5,387.5h0M141.1,385.5h0M141.6,394.5h0M142.2,362.0h0M142.8,392.4h0M143.4,378.4h0M144.0,384.7h0M144.6,390.9h0M145.2,371.1h0M145.7,382.9h0M146.3,379.9h0M146.9,386.1h0M147.5,360.5h0M148.1,385.6h0M148.7,380.3h0M149.2,388.1h0M149.8,406.6h0M150.4,368.1h0M151.0,357.8h0M151.6,377.0h0M152.2,381.7h0M152.8,384.0h0M153.3,383.4h0M153.9,374.7h0M154.5,384.6h0M155.1,380.9h0M155.7,380.0h0M156.3,372.3h0M156.9,378.5h0M157.4,379.4h0M158.0,385.6h0M158.6,393.4h0M159.2,370.4h0M159.8,357.4h0M160.4,384.3h0M161.0,376.2h0M161.5,376.2h0M162.1,376.4h0M162.7,376.0h0M163.3,386.1h0M163.9,363.1h0M164.5,392.5h0M165.1,371.4h0M165.6,379.2h0M166.2,375.4h0M166.8,369.6h0M167.4,374.5h0M168.0,361.8h0M168.6,389.6h0M169.1,370.7h0M169.7,389.7h0M170.3,378.0h0M170.9,374.3h0M171.5,367.6h0M172.1,390.8h0M172.7,373.4h0M173.2,380.9h0M173.8,382.7h0M174.4,397.1h0M175.0,386.7h0M175.6,389.1h0M176.2,377.9h0M176.8,386.9h0M177.3,389.7h0M177.9,373.1h0M178.5,382.4h0M179.1,377.3h0M179.7,388.7h0M180.3,383.1h0M180.9,368.7h0M181.4,384.7h0M182.0,376.7h0M182.6,386.6h0M183.2,376.0h0M183.8,379.0h0M184.4,363.0h0M184.9,402.0h0M185.5,371.0h0M186.1,383.7h0M186.7,380.5h0M187.3,390.4h0M187.9,380.2h0M188.5,373.9h0M189.0,366.9h0M189.6,379.6h0M190.2,383.1h0M190.8,395.4h0M191.4,383.9h0M192.0,394.2h0M192.6,380.0h0M193.1,391.7h0M193.7,394.0h0M194.3,376.3h0M194.9,370.4h0M195.5,383.7h0M196.1,388.6h0M196.7,384.4h0M197.2,370.9h0M197.8,382.3h0M198.4,380.7h0M199.0,381.1h0M199.6,380.2h0M200.2,375.1h0M200.8,378.7h0M201.3,380.5h0M201.9,388.2h0M202.5,374.4h0M203.1,386.4h0M203.7,371.8h0M204.3,391.1h0M204.8,378.3h0M205.4,380.3h0M206.0,389.3h0M206.6,366.6h0M207.2,374.6h0M207.8,387.1h0M208.4,374.0h0M208.9,379.7h0M209.5,393.8h0M210.1,372.9h0M210.7,365.3h0M211.3,403.8h0M211.9,388.0h0M212.5,379.7h0M213.0,381.2h0M213.6,372.2h0M214.2,365.2h0M214.8,381.5h0M215.4,370.3h0M216.0,387.9h0M216.6,396.3h0M217.1,391.3h0M217.7,366.6h0M218.3,377.6h0M218.9,365.1h0M219.5,378.1h0M220.1,381.5h0M220.6,379.3h0M221.2,383.1h0M221.8,381.4h0M222.4,379.5h0M223.0,370.6h0M223.6,380.4h0M224.2,382.5h0M224.7,384.6h0M225.3,383.8h0M225.9,368.4h0M226.5,381.0h0M227.1,381.4h0M227.7,383.4h0M228.3,387.1h0M228.8,395.3h0M229.4,374.2h0M230.0,362.9h0M230.6,381.3h0M231.2,381.7h0M231.8,379.2h0M232.4,390.9h0M232.9,403.3h0M233.5,365.0h0M234.1,372.7h0M234.7,387.8h0M235.3,374.8h0M235.9,371.8h0M236.5,386.2h0M237.0,364.9h0M237.6,377.7h0M238.2,381.1h0M238.8,387.2h0M239.4,375.0h0M240.0,368.2h0M240.5,386.9h0M241.1,381.4h0M241.7,387.0h0M242.3,375.7h0M242.9,389.5h0M243.5,385.3h0M244.1,369.6h0M244.6,389.5h0M245.2,371.3h0M245.8,373.0h0M246.4,382.7h0M247.0,377.2h0M247.6,369.0h0M248.2,386.5h0M248.7,384.3h0M249.3,388.3h0M249.9,360.3h0M250.5,370.8h0M251.1,377.4h0M251.7,389.0h0M252.3,384.4h0M252.8,382.2h0M253.4,377.1h0M254.0,383.0h0M254.6,378.4h0M255.2,379.0h0M255.8,394.4h0M256.3,367.5h0M256.9,379.0h0M257.5,381.8h0M258.1,376.7h0M258.7,369.3h0M259.3,381.0h0M259.9,364.2h0M260.4,391.5h0M261.0,396.2h0M261.6,393.6h0M262.2,362.7h0M262.8,371.7h0M263.4,377.7h0M264.0,383.6h0M264.5,391.2h0M265.1,378.9h0M265.7,384.5h0M266.3,374.4h0M266.9,367.2h0M267.5,368.6h0M268.1,386.3h0M268.6,386.6h0M269.2,378.0h0M269.8,381.8h0M270.4,387.9h0M271.0,376.8h0M271.6,388.6h0M272.2,403.0h0M272.7,360.2h0M273.3,375.6h0M273.9,386.3h0M274.5,375.8h0M275.1,368.6h0M275.7,383.2h0M276.2,382.1h0M276.8,388.5h0M277.4,387.2h0M278.0,372.0h0M278.6,384.1h0M279.2,378.5h0M279.8,374.1h0M280.3,390.4h0M280.9,382.0h0M281.5,377.3h0" fill="none" stroke="#e06161" stroke-width="1.35" stroke-linecap="round"/>
<text x="49.50" y="455.25" text-anchor="middle">0</text>
<text x="108.03" y="455.25" text-anchor="middle">100</text>
<text x="166.55" y="455.25" text-anchor="middle">200</text>
<text x="225.08" y="455.25" text-anchor="middle">300</text>
<text x="283.60" y="455.25" text-anchor="middle">400</text>
<text x="46.55" y="445.00" text-anchor="end">250</text>
<text x="46.55" y="400.82" text-anchor="end">300</text>
<text x="46.55" y="356.65" text-anchor="end">350</text>
<text x="46.55" y="312.47" text-anchor="end">400</text>
<text x="46.55" y="268.30" text-anchor="end">450</text>
<path d="M48.00,440.1v-2.6M48.00,263.4v2.6M106.53,440.1v-2.6M106.53,263.4v2.6M165.05,440.1v-2.6M165.05,263.4v2.6M223.58,440.1v-2.6M223.58,263.4v2.6M282.10,440.1v-2.6M282.10,263.4v2.6M48.0,440.10h2.6M282.1,440.10h-2.6M48.0,395.93h2.6M282.1,395.93h-2.6M48.0,351.75h2.6M282.1,351.75h-2.6M48.0,307.57h2.6M282.1,307.57h-2.6M48.0,263.40h2.6M282.1,263.40h-2.6" stroke="#a6a6a6" stroke-width="0.7" fill="none"/>
<path d="M48.0,263.4V440.1" stroke="#cccccc" stroke-width="1.3" fill="none"/>
<path d="M282.1,263.4V440.1" stroke="#c6c6c6" stroke-width="1.8" fill="none"/>
<path d="M47.35,263.4H283.0" stroke="#9a9a9a" stroke-width="1.1" fill="none"/>
<path d="M47.35,440.1H283.0" stroke="#adadad" stroke-width="1.6" fill="none"/>
<text x="168.15" y="476.90" text-anchor="middle">Time (number of image)</text>
<text transform="translate(10.2,351.75) rotate(-90)" text-anchor="middle">Image intensity</text>
<text class="tag" x="166.75" y="501.80" text-anchor="middle">(c)</text>
<text x="354.20" y="455.55" text-anchor="middle">280</text>
<text x="412.75" y="455.55" text-anchor="middle">300</text>
<text x="471.30" y="455.55" text-anchor="middle">320</text>
<text x="529.85" y="455.55" text-anchor="middle">340</text>
<text x="588.40" y="455.55" text-anchor="middle">360</text>
<text x="350.65" y="444.70" text-anchor="end">0</text>
<text x="350.65" y="415.30" text-anchor="end">10</text>
<text x="350.65" y="385.90" text-anchor="end">20</text>
<text x="350.65" y="356.50" text-anchor="end">30</text>
<text x="350.65" y="327.10" text-anchor="end">40</text>
<text x="350.65" y="297.70" text-anchor="end">50</text>
<text x="350.65" y="268.30" text-anchor="end">60</text>
<path d="M353.20,439.8v-2.6M353.20,263.4v2.6M411.75,439.8v-2.6M411.75,263.4v2.6M470.30,439.8v-2.6M470.30,263.4v2.6M528.85,439.8v-2.6M528.85,263.4v2.6M587.40,439.8v-2.6M587.40,263.4v2.6M353.2,439.80h2.6M587.4,439.80h-2.6M353.2,410.40h2.6M587.4,410.40h-2.6M353.2,381.00h2.6M587.4,381.00h-2.6M353.2,351.60h2.6M587.4,351.60h-2.6M353.2,322.20h2.6M587.4,322.20h-2.6M353.2,292.80h2.6M587.4,292.80h-2.6M353.2,263.40h2.6M587.4,263.40h-2.6" stroke="#a6a6a6" stroke-width="0.7" fill="none"/>
<path d="M353.2,263.4V439.8" stroke="#a8a8a8" stroke-width="1.2" fill="none"/>
<path d="M587.4,263.4V439.8" stroke="#9a9a9a" stroke-width="1.0" fill="none"/>
<path d="M352.59999999999997,263.4H587.9" stroke="#9a9a9a" stroke-width="1.1" fill="none"/>
<path d="M352.59999999999997,439.8H587.9" stroke="#858585" stroke-width="1.2" fill="none"/>
<text x="470.30" y="477.30" text-anchor="middle">Gray level</text>
<text transform="translate(323.3,352.20) rotate(-90)" text-anchor="middle">Number of occurrencies</text>
<text class="tag" x="473.70" y="502.20" text-anchor="middle">(d)</text>
<rect x="366.09" y="436.86" width="8.23" height="3.44" fill="#dfeff8" stroke="#cfd2d6" stroke-width="0.8"/>
<rect x="376.51" y="430.98" width="8.23" height="9.32" fill="#dfeff8" stroke="#cfd2d6" stroke-width="0.8"/>
<rect x="386.93" y="425.10" width="8.23" height="15.20" fill="#dfeff8" stroke="#cfd2d6" stroke-width="0.8"/>
<rect x="397.34" y="428.04" width="8.23" height="12.26" fill="#dfeff8" stroke="#cfd2d6" stroke-width="0.8"/>
<rect x="407.76" y="392.76" width="8.23" height="47.54" fill="#dfeff8" stroke="#cfd2d6" stroke-width="0.8"/>
<rect x="418.18" y="378.06" width="8.23" height="62.24" fill="#dfeff8" stroke="#cfd2d6" stroke-width="0.8"/>
<rect x="428.60" y="339.84" width="8.23" height="100.46" fill="#dfeff8" stroke="#cfd2d6" stroke-width="0.8"/>
<rect x="439.01" y="310.44" width="8.23" height="129.86" fill="#dfeff8" stroke="#cfd2d6" stroke-width="0.8"/>
<rect x="449.43" y="278.10" width="8.23" height="162.20" fill="#dfeff8" stroke="#cfd2d6" stroke-width="0.8"/>
<rect x="459.85" y="283.98" width="8.23" height="156.32" fill="#dfeff8" stroke="#cfd2d6" stroke-width="0.8"/>
<rect x="470.27" y="313.38" width="8.23" height="126.92" fill="#dfeff8" stroke="#cfd2d6" stroke-width="0.8"/>
<rect x="480.68" y="331.02" width="8.23" height="109.28" fill="#dfeff8" stroke="#cfd2d6" stroke-width="0.8"/>
<rect x="491.10" y="354.54" width="8.23" height="85.76" fill="#dfeff8" stroke="#cfd2d6" stroke-width="0.8"/>
<rect x="501.52" y="383.94" width="8.23" height="56.36" fill="#dfeff8" stroke="#cfd2d6" stroke-width="0.8"/>
<rect x="511.94" y="392.76" width="8.23" height="47.54" fill="#dfeff8" stroke="#cfd2d6" stroke-width="0.8"/>
<rect x="522.35" y="410.40" width="8.23" height="29.90" fill="#dfeff8" stroke="#cfd2d6" stroke-width="0.8"/>
<rect x="532.77" y="428.04" width="8.23" height="12.26" fill="#dfeff8" stroke="#cfd2d6" stroke-width="0.8"/>
<rect x="543.19" y="430.98" width="8.23" height="9.32" fill="#dfeff8" stroke="#cfd2d6" stroke-width="0.8"/>
<rect x="553.61" y="433.92" width="8.23" height="6.38" fill="#dfeff8" stroke="#cfd2d6" stroke-width="0.8"/>
<rect x="564.02" y="436.86" width="8.23" height="3.44" fill="#dfeff8" stroke="#cfd2d6" stroke-width="0.8"/>
</svg>
</body></html>
